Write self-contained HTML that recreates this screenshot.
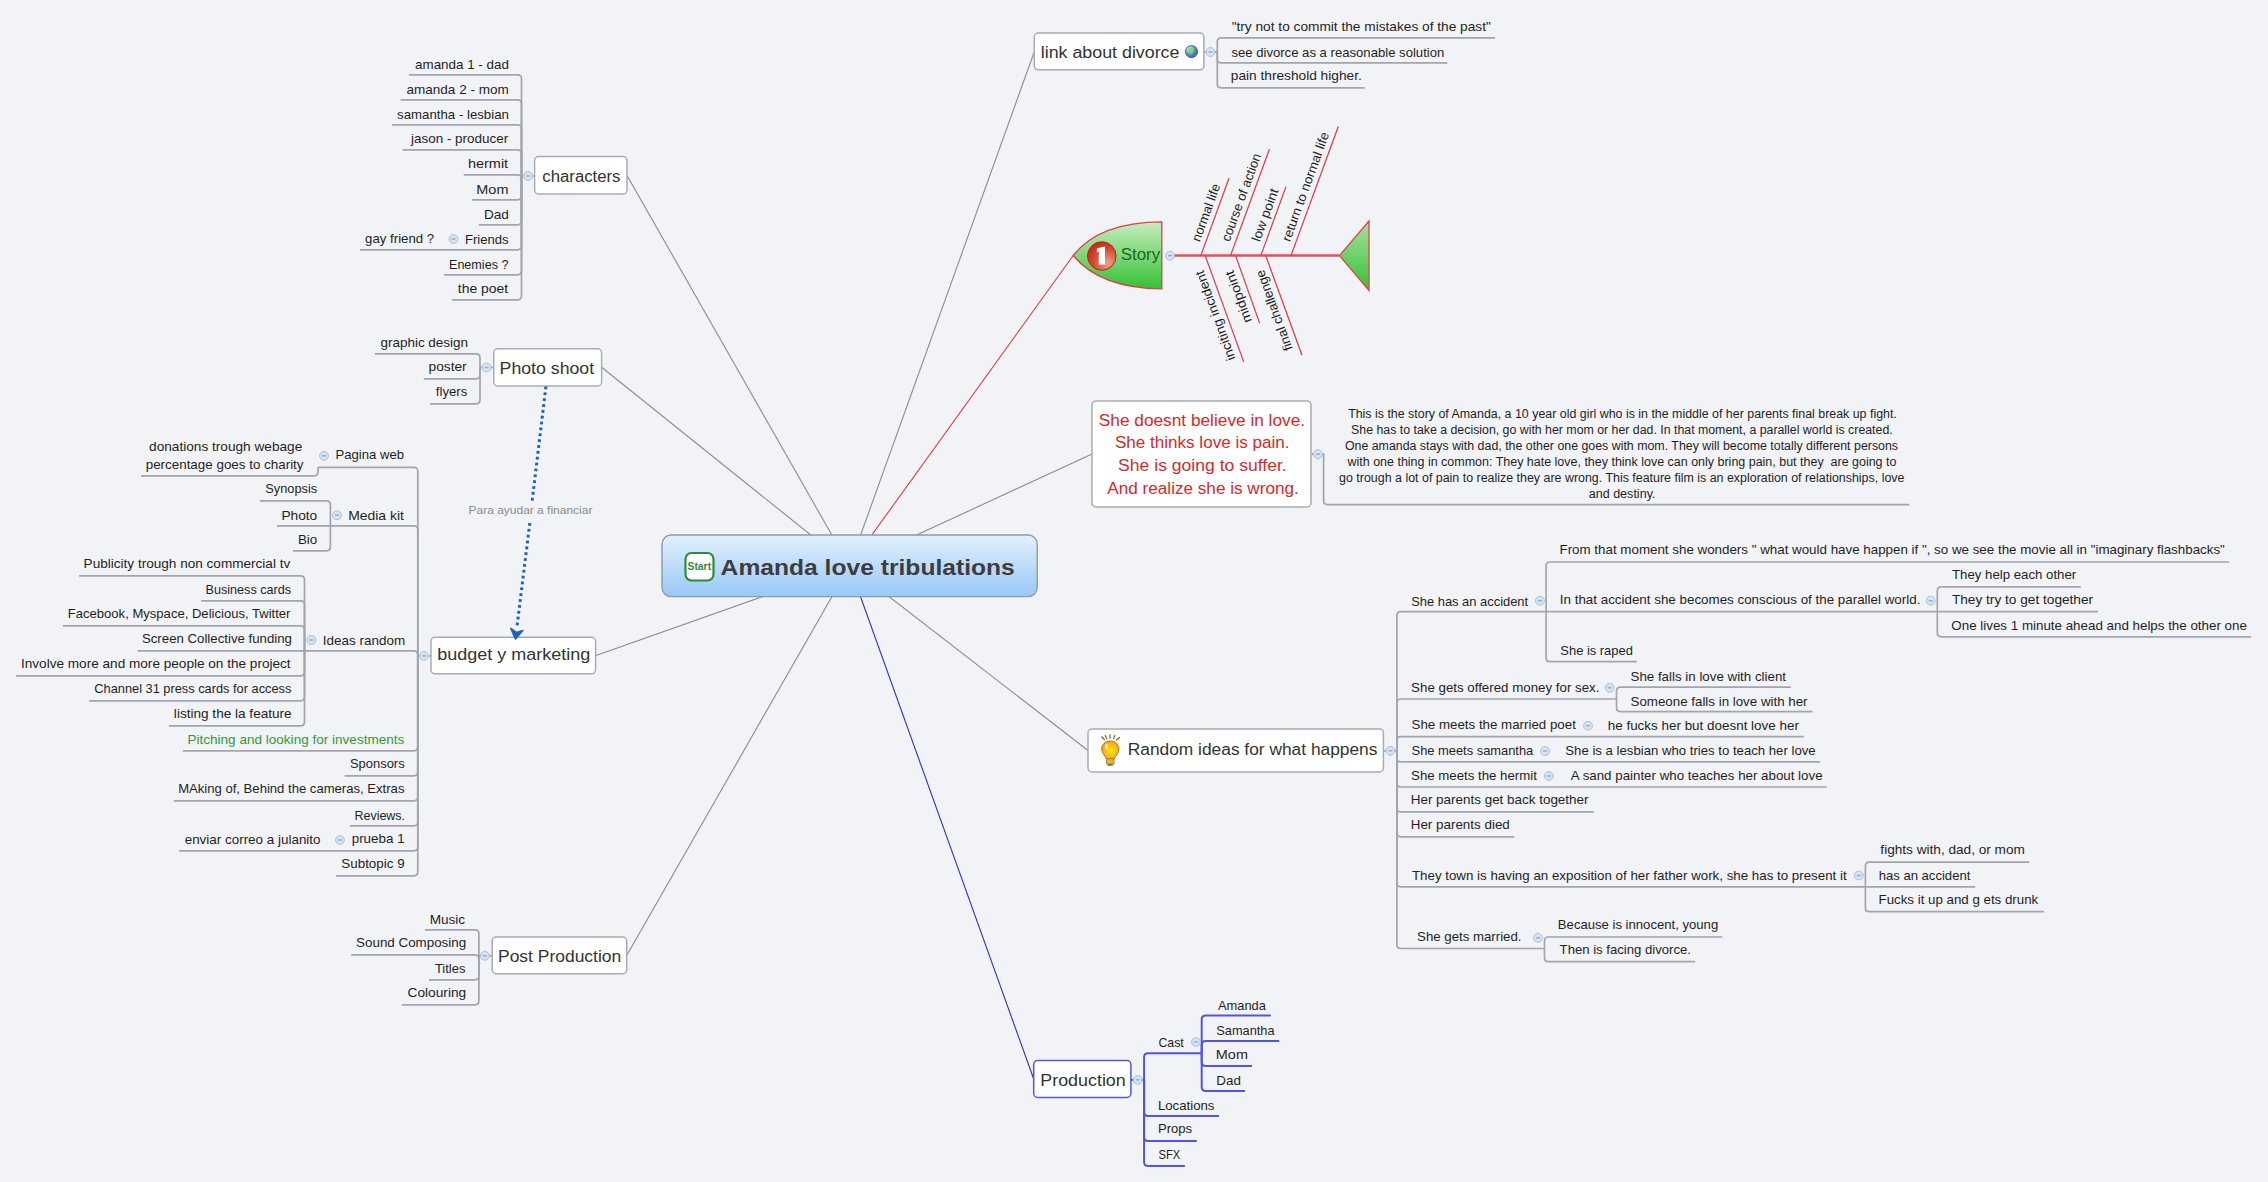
<!DOCTYPE html>
<html><head><meta charset="utf-8"><title>Amanda love tribulations</title>
<style>
html,body{margin:0;padding:0;width:2268px;height:1182px;overflow:hidden;background:#f2f3f7;}
body{position:relative;font-family:"Liberation Sans",sans-serif;}
</style></head>
<body><svg width="2268" height="1182" viewBox="0 0 2268 1182" style="position:absolute;left:0;top:0" font-family="Liberation Sans, sans-serif"><defs>
<linearGradient id="centralg" x1="0" y1="0" x2="0" y2="1">
<stop offset="0" stop-color="#e3f0fc"/><stop offset="1" stop-color="#98c8f7"/></linearGradient>
<linearGradient id="fishg" x1="0" y1="0" x2="0" y2="1">
<stop offset="0" stop-color="#c8ecc0"/><stop offset="1" stop-color="#33c233"/></linearGradient>
<linearGradient id="fishg2" x1="0" y1="0" x2="0" y2="1">
<stop offset="0" stop-color="#a8e0a0"/><stop offset="1" stop-color="#33c233"/></linearGradient>
<radialGradient id="badgeg" cx="0.7" cy="0.75" r="0.8">
<stop offset="0" stop-color="#f2a090"/><stop offset="0.6" stop-color="#d84a30"/><stop offset="1" stop-color="#c22a1a"/></radialGradient>
<radialGradient id="globeg" cx="0.35" cy="0.3" r="0.8">
<stop offset="0" stop-color="#e8f6ff"/><stop offset="0.5" stop-color="#4aa0c8"/><stop offset="1" stop-color="#3a4aa0"/></radialGradient>
<radialGradient id="bulbg" cx="0.55" cy="0.55" r="0.6">
<stop offset="0" stop-color="#f0f000"/><stop offset="0.7" stop-color="#f8b020"/><stop offset="1" stop-color="#f09010"/></radialGradient>
</defs><line x1="849.5" y1="566" x2="627" y2="175.5" stroke="#8c8c8c" stroke-width="1.1"/>
<line x1="849.5" y1="566" x2="601.6" y2="367.3" stroke="#8c8c8c" stroke-width="1.1"/>
<line x1="849.5" y1="566" x2="596" y2="655.5" stroke="#8c8c8c" stroke-width="1.1"/>
<line x1="849.5" y1="566" x2="627" y2="955" stroke="#8c8c8c" stroke-width="1.1"/>
<line x1="849.5" y1="566" x2="1034.3" y2="51.8" stroke="#8c8c8c" stroke-width="1.1"/>
<line x1="849.5" y1="566" x2="1073.2" y2="255.5" stroke="#e23b3b" stroke-width="1.1"/>
<line x1="849.5" y1="566" x2="1092" y2="454" stroke="#8c8c8c" stroke-width="1.1"/>
<line x1="849.5" y1="566" x2="1088" y2="750.5" stroke="#8c8c8c" stroke-width="1.1"/>
<line x1="849.5" y1="566" x2="1033.7" y2="1079" stroke="#3030c8" stroke-width="1.1"/>
<path d="M521.5,176 V78.8 Q521.5,74.8 517.5,74.8 H409" fill="none" stroke="#a2a5ab" stroke-width="1.7"/>
<path d="M521.5,176 V103.8 Q521.5,99.8 517.5,99.8 H400.6" fill="none" stroke="#a2a5ab" stroke-width="1.7"/>
<path d="M521.5,176 V128.8 Q521.5,124.8 517.5,124.8 H392" fill="none" stroke="#a2a5ab" stroke-width="1.7"/>
<path d="M521.5,176 V153.8 Q521.5,149.8 517.5,149.8 H402.5" fill="none" stroke="#a2a5ab" stroke-width="1.7"/>
<path d="M521.5,176 V178.8 Q521.5,174.8 517.5,174.8 H463.75" fill="none" stroke="#a2a5ab" stroke-width="1.7"/>
<path d="M521.5,176 V195.8 Q521.5,199.8 517.5,199.8 H472" fill="none" stroke="#a2a5ab" stroke-width="1.7"/>
<path d="M521.5,176 V220.8 Q521.5,224.8 517.5,224.8 H478.75" fill="none" stroke="#a2a5ab" stroke-width="1.7"/>
<path d="M521.5,176 V245.8 Q521.5,249.8 517.5,249.8 H360" fill="none" stroke="#a2a5ab" stroke-width="1.7"/>
<path d="M521.5,176 V270.8 Q521.5,274.8 517.5,274.8 H444" fill="none" stroke="#a2a5ab" stroke-width="1.7"/>
<path d="M521.5,176 V295.8 Q521.5,299.8 517.5,299.8 H452" fill="none" stroke="#a2a5ab" stroke-width="1.7"/>
<path d="M528,176 H534.6" fill="none" stroke="#a2a5ab" stroke-width="1.7"/>
<text x="415.06" y="69.00" font-size="13" fill="#1f1f1f" textLength="93.80" lengthAdjust="spacingAndGlyphs">amanda 1 - dad</text>
<text x="406.46" y="94.00" font-size="13" fill="#1f1f1f" textLength="102.33" lengthAdjust="spacingAndGlyphs">amanda 2 - mom</text>
<text x="397.10" y="118.75" font-size="13" fill="#1f1f1f" textLength="111.80" lengthAdjust="spacingAndGlyphs">samantha - lesbian</text>
<text x="411.00" y="142.50" font-size="13" fill="#1f1f1f" textLength="97.20" lengthAdjust="spacingAndGlyphs">jason - producer</text>
<text x="467.99" y="168.00" font-size="13" fill="#1f1f1f" textLength="40.13" lengthAdjust="spacingAndGlyphs">hermit</text>
<text x="476.35" y="193.75" font-size="13" fill="#1f1f1f" textLength="32.05" lengthAdjust="spacingAndGlyphs">Mom</text>
<text x="483.91" y="218.75" font-size="13" fill="#1f1f1f" textLength="24.96" lengthAdjust="spacingAndGlyphs">Dad</text>
<text x="464.96" y="243.50" font-size="13" fill="#1f1f1f" textLength="43.49" lengthAdjust="spacingAndGlyphs">Friends</text>
<text x="448.99" y="268.50" font-size="13" fill="#1f1f1f" textLength="59.44" lengthAdjust="spacingAndGlyphs">Enemies ?</text>
<text x="457.86" y="292.50" font-size="13" fill="#1f1f1f" textLength="50.19" lengthAdjust="spacingAndGlyphs">the poet</text>
<text x="365.07" y="243.20" font-size="13" fill="#1f1f1f" textLength="69.14" lengthAdjust="spacingAndGlyphs">gay friend ?</text>
<g transform="translate(453.5,239)"><circle r="4.4" fill="#d4e5f8" stroke="#aebdd0" stroke-width="1"/><line x1="-2" y1="0" x2="2" y2="0" stroke="#94add0" stroke-width="1.5"/></g>
<rect x="534.60" y="156.50" width="92.40" height="37.50" rx="4" fill="#ffffff" stroke="#a9acb0" stroke-width="1.5"/>
<text x="542.33" y="181.80" font-size="16" fill="#333333" textLength="78.14" lengthAdjust="spacingAndGlyphs">characters</text>
<g transform="translate(528,176)"><circle r="4.4" fill="#d4e5f8" stroke="#aebdd0" stroke-width="1"/><line x1="-2" y1="0" x2="2" y2="0" stroke="#94add0" stroke-width="1.5"/></g>
<path d="M480,367.5 V357.8 Q480,353.8 476,353.8 H374.75" fill="none" stroke="#a2a5ab" stroke-width="1.7"/>
<path d="M480,367.5 V374.8 Q480,378.8 476,378.8 H423.75" fill="none" stroke="#a2a5ab" stroke-width="1.7"/>
<path d="M480,367.5 V399.8 Q480,403.8 476,403.8 H430" fill="none" stroke="#a2a5ab" stroke-width="1.7"/>
<path d="M480,367.5 H493.75" fill="none" stroke="#a2a5ab" stroke-width="1.7"/>
<text x="380.46" y="346.90" font-size="13" fill="#1f1f1f" textLength="87.60" lengthAdjust="spacingAndGlyphs">graphic design</text>
<text x="428.58" y="370.60" font-size="13" fill="#1f1f1f" textLength="38.05" lengthAdjust="spacingAndGlyphs">poster</text>
<text x="435.87" y="396.00" font-size="13" fill="#1f1f1f" textLength="31.41" lengthAdjust="spacingAndGlyphs">flyers</text>
<rect x="493.75" y="348.75" width="107.85" height="37.15" rx="4" fill="#ffffff" stroke="#a9acb0" stroke-width="1.5"/>
<text x="499.58" y="374.00" font-size="16" fill="#333333" textLength="94.54" lengthAdjust="spacingAndGlyphs">Photo shoot</text>
<g transform="translate(486.5,367.5)"><circle r="4.4" fill="#d4e5f8" stroke="#aebdd0" stroke-width="1"/><line x1="-2" y1="0" x2="2" y2="0" stroke="#94add0" stroke-width="1.5"/></g>
<path d="M417.8,655.9 V471.4 Q417.8,467.4 413.8,467.4 H318" fill="none" stroke="#a2a5ab" stroke-width="1.7"/>
<path d="M318,467.4 V471.8 Q318,475.8 314,475.8 H141.2" fill="none" stroke="#a2a5ab" stroke-width="1.7"/>
<text x="335.55" y="459.00" font-size="13" fill="#1f1f1f" textLength="68.42" lengthAdjust="spacingAndGlyphs">Pagina web</text>
<text x="149.05" y="450.50" font-size="13" fill="#1f1f1f" textLength="153.23" lengthAdjust="spacingAndGlyphs">donations trough webage</text>
<text x="145.70" y="468.60" font-size="13" fill="#1f1f1f" textLength="157.86" lengthAdjust="spacingAndGlyphs">percentage goes to charity</text>
<g transform="translate(324,455.8)"><circle r="4.4" fill="#d4e5f8" stroke="#aebdd0" stroke-width="1"/><line x1="-2" y1="0" x2="2" y2="0" stroke="#94add0" stroke-width="1.5"/></g>
<path d="M417.8,655.9 V529.8 Q417.8,525.8 413.8,525.8 H330.4" fill="none" stroke="#a2a5ab" stroke-width="1.7"/>
<path d="M330.4,525.8 V504.8 Q330.4,500.8 326.4,500.8 H260" fill="none" stroke="#a2a5ab" stroke-width="1.7"/>
<text x="265.36" y="492.80" font-size="13" fill="#1f1f1f" textLength="51.79" lengthAdjust="spacingAndGlyphs">Synopsis</text>
<path d="M330.4,525.8 H276.8" fill="none" stroke="#a2a5ab" stroke-width="1.7"/>
<text x="281.40" y="519.50" font-size="13" fill="#1f1f1f" textLength="35.85" lengthAdjust="spacingAndGlyphs">Photo</text>
<path d="M330.4,525.8 V546.8 Q330.4,550.8 326.4,550.8 H293" fill="none" stroke="#a2a5ab" stroke-width="1.7"/>
<text x="297.93" y="544.40" font-size="13" fill="#1f1f1f" textLength="19.34" lengthAdjust="spacingAndGlyphs">Bio</text>
<text x="348.18" y="519.50" font-size="13" fill="#1f1f1f" textLength="55.77" lengthAdjust="spacingAndGlyphs">Media kit</text>
<g transform="translate(337,515.3)"><circle r="4.4" fill="#d4e5f8" stroke="#aebdd0" stroke-width="1"/><line x1="-2" y1="0" x2="2" y2="0" stroke="#94add0" stroke-width="1.5"/></g>
<path d="M417.8,655.9 V654.8 Q417.8,650.8 413.8,650.8 H304.5" fill="none" stroke="#a2a5ab" stroke-width="1.7"/>
<path d="M304.5,650.8 V579.8 Q304.5,575.8 300.5,575.8 H79.1" fill="none" stroke="#a2a5ab" stroke-width="1.7"/>
<text x="83.61" y="567.90" font-size="13" fill="#1f1f1f" textLength="206.65" lengthAdjust="spacingAndGlyphs">Publicity trough non commercial tv</text>
<path d="M304.5,650.8 V604.8 Q304.5,600.8 300.5,600.8 H201.3" fill="none" stroke="#a2a5ab" stroke-width="1.7"/>
<text x="205.59" y="594.30" font-size="13" fill="#1f1f1f" textLength="85.39" lengthAdjust="spacingAndGlyphs">Business cards</text>
<path d="M304.5,650.8 V629.8 Q304.5,625.8 300.5,625.8 H62.8" fill="none" stroke="#a2a5ab" stroke-width="1.7"/>
<text x="67.75" y="618.10" font-size="13" fill="#1f1f1f" textLength="222.71" lengthAdjust="spacingAndGlyphs">Facebook, Myspace, Delicious, Twitter</text>
<path d="M304.5,650.8 H137.6" fill="none" stroke="#a2a5ab" stroke-width="1.7"/>
<text x="141.94" y="643.30" font-size="13" fill="#1f1f1f" textLength="149.98" lengthAdjust="spacingAndGlyphs">Screen Collective funding</text>
<path d="M304.5,650.8 V671.8 Q304.5,675.8 300.5,675.8 H16.1" fill="none" stroke="#a2a5ab" stroke-width="1.7"/>
<text x="20.98" y="667.70" font-size="13" fill="#1f1f1f" textLength="269.67" lengthAdjust="spacingAndGlyphs">Involve more and more people on the project</text>
<path d="M304.5,650.8 V696.8 Q304.5,700.8 300.5,700.8 H89.3" fill="none" stroke="#a2a5ab" stroke-width="1.7"/>
<text x="94.36" y="692.90" font-size="13" fill="#1f1f1f" textLength="196.97" lengthAdjust="spacingAndGlyphs">Channel 31 press cards for access</text>
<path d="M304.5,650.8 V721.8 Q304.5,725.8 300.5,725.8 H169" fill="none" stroke="#a2a5ab" stroke-width="1.7"/>
<text x="173.89" y="718.40" font-size="13" fill="#1f1f1f" textLength="117.78" lengthAdjust="spacingAndGlyphs">listing the la feature</text>
<text x="322.89" y="644.90" font-size="13" fill="#1f1f1f" textLength="82.28" lengthAdjust="spacingAndGlyphs">Ideas random</text>
<g transform="translate(311.4,640)"><circle r="4.4" fill="#d4e5f8" stroke="#aebdd0" stroke-width="1"/><line x1="-2" y1="0" x2="2" y2="0" stroke="#94add0" stroke-width="1.5"/></g>
<path d="M417.8,655.9 V746.8 Q417.8,750.8 413.8,750.8 H182.9" fill="none" stroke="#a2a5ab" stroke-width="1.7"/>
<text x="187.42" y="743.60" font-size="13" fill="#3a963a" textLength="216.96" lengthAdjust="spacingAndGlyphs">Pitching and looking for investments</text>
<path d="M417.8,655.9 V771.8 Q417.8,775.8 413.8,775.8 H344.6" fill="none" stroke="#a2a5ab" stroke-width="1.7"/>
<text x="349.95" y="768.00" font-size="13" fill="#1f1f1f" textLength="54.69" lengthAdjust="spacingAndGlyphs">Sponsors</text>
<path d="M417.8,655.9 V796.8 Q417.8,800.8 413.8,800.8 H173.7" fill="none" stroke="#a2a5ab" stroke-width="1.7"/>
<text x="178.15" y="793.20" font-size="13" fill="#1f1f1f" textLength="226.30" lengthAdjust="spacingAndGlyphs">MAking of, Behind the cameras, Extras</text>
<path d="M417.8,655.9 V821.8 Q417.8,825.8 413.8,825.8 H349.8" fill="none" stroke="#a2a5ab" stroke-width="1.7"/>
<text x="354.50" y="819.60" font-size="13" fill="#1f1f1f" textLength="50.58" lengthAdjust="spacingAndGlyphs">Reviews.</text>
<path d="M417.8,655.9 V846.8 Q417.8,850.8 413.8,850.8 H179" fill="none" stroke="#a2a5ab" stroke-width="1.7"/>
<text x="351.70" y="843.40" font-size="13" fill="#1f1f1f" textLength="52.94" lengthAdjust="spacingAndGlyphs">prueba 1</text>
<path d="M417.8,655.9 V871.8 Q417.8,875.8 413.8,875.8 H336" fill="none" stroke="#a2a5ab" stroke-width="1.7"/>
<text x="341.33" y="868.40" font-size="13" fill="#1f1f1f" textLength="63.28" lengthAdjust="spacingAndGlyphs">Subtopic 9</text>
<text x="184.66" y="843.50" font-size="13" fill="#1f1f1f" textLength="135.92" lengthAdjust="spacingAndGlyphs">enviar correo a julanito</text>
<g transform="translate(340,840)"><circle r="4.4" fill="#d4e5f8" stroke="#aebdd0" stroke-width="1"/><line x1="-2" y1="0" x2="2" y2="0" stroke="#94add0" stroke-width="1.5"/></g>
<path d="M417.8,655.9 H431" fill="none" stroke="#a2a5ab" stroke-width="1.7"/>
<rect x="431.00" y="637.30" width="164.60" height="36.50" rx="4" fill="#ffffff" stroke="#a9acb0" stroke-width="1.5"/>
<text x="437.32" y="660.30" font-size="16" fill="#333333" textLength="153.04" lengthAdjust="spacingAndGlyphs">budget y marketing</text>
<g transform="translate(424,655.9)"><circle r="4.4" fill="#d4e5f8" stroke="#aebdd0" stroke-width="1"/><line x1="-2" y1="0" x2="2" y2="0" stroke="#94add0" stroke-width="1.5"/></g>
<path d="M478.9,955.8 V933.8 Q478.9,929.8 474.9,929.8 H425" fill="none" stroke="#a2a5ab" stroke-width="1.7"/>
<text x="429.72" y="923.50" font-size="13" fill="#1f1f1f" textLength="35.41" lengthAdjust="spacingAndGlyphs">Music</text>
<path d="M478.9,955.8 V958.8 Q478.9,954.8 474.9,954.8 H351" fill="none" stroke="#a2a5ab" stroke-width="1.7"/>
<text x="356.13" y="947.40" font-size="13" fill="#1f1f1f" textLength="109.96" lengthAdjust="spacingAndGlyphs">Sound Composing</text>
<path d="M478.9,955.8 V975.8 Q478.9,979.8 474.9,979.8 H429" fill="none" stroke="#a2a5ab" stroke-width="1.7"/>
<text x="434.94" y="973.10" font-size="13" fill="#1f1f1f" textLength="30.47" lengthAdjust="spacingAndGlyphs">Titles</text>
<path d="M478.9,955.8 V1000.8 Q478.9,1004.8 474.9,1004.8 H401.8" fill="none" stroke="#a2a5ab" stroke-width="1.7"/>
<text x="407.51" y="997.20" font-size="13" fill="#1f1f1f" textLength="58.75" lengthAdjust="spacingAndGlyphs">Colouring</text>
<path d="M478.9,955.8 H492.2" fill="none" stroke="#a2a5ab" stroke-width="1.7"/>
<rect x="492.20" y="937.00" width="134.50" height="36.70" rx="4" fill="#ffffff" stroke="#a9acb0" stroke-width="1.5"/>
<text x="498.00" y="961.90" font-size="16" fill="#333333" textLength="123.20" lengthAdjust="spacingAndGlyphs">Post Production</text>
<g transform="translate(484.9,955.8)"><circle r="4.4" fill="#d4e5f8" stroke="#aebdd0" stroke-width="1"/><line x1="-2" y1="0" x2="2" y2="0" stroke="#94add0" stroke-width="1.5"/></g>
<path d="M1217.3,52 V41.8 Q1217.3,37.8 1221.3,37.8 H1495" fill="none" stroke="#a2a5ab" stroke-width="1.7"/>
<text x="1231.65" y="30.50" font-size="13" fill="#1f1f1f" textLength="259.21" lengthAdjust="spacingAndGlyphs">"try not to commit the mistakes of the past"</text>
<path d="M1217.3,52 V58.9 Q1217.3,62.9 1221.3,62.9 H1447.4" fill="none" stroke="#a2a5ab" stroke-width="1.7"/>
<text x="1231.41" y="56.60" font-size="13" fill="#1f1f1f" textLength="212.90" lengthAdjust="spacingAndGlyphs">see divorce as a reasonable solution</text>
<path d="M1217.3,52 V83.8 Q1217.3,87.8 1221.3,87.8 H1364.8" fill="none" stroke="#a2a5ab" stroke-width="1.7"/>
<text x="1230.78" y="80.40" font-size="13" fill="#1f1f1f" textLength="130.98" lengthAdjust="spacingAndGlyphs">pain threshold higher.</text>
<path d="M1203.9,52 H1217.3" fill="none" stroke="#a2a5ab" stroke-width="1.7"/>
<rect x="1034.30" y="33.10" width="169.60" height="36.70" rx="4" fill="#ffffff" stroke="#a9acb0" stroke-width="1.5"/>
<text x="1040.73" y="57.90" font-size="16" fill="#333333" textLength="138.71" lengthAdjust="spacingAndGlyphs">link about divorce</text>
<g transform="translate(1210.5,52)"><circle r="4.4" fill="#d4e5f8" stroke="#aebdd0" stroke-width="1"/><line x1="-2" y1="0" x2="2" y2="0" stroke="#94add0" stroke-width="1.5"/></g>
<g transform="translate(1191.5,51.6)">
<circle r="6.1" fill="url(#globeg)" stroke="#2d5f7a" stroke-width="0.8"/>
<path d="M-2.5,-4.5 C-1,-3 1,-4 1.5,-2 C2.5,0 0,1.5 -0.5,3 C-1.5,1 -3.5,0 -3,-2 Z" fill="#8fd04a" opacity="0.9"/>
<path d="M2,2 C4,1.5 5,3 4,4.5 C3,5.5 1.5,5 2,2 Z" fill="#8a5ab8" opacity="0.8"/>
</g>
<path d="M1174,255.6 H1339.4" fill="none" stroke="#e2505a" stroke-width="2.5"/>
<path d="M1200.8,255.6 L1229,178.2" fill="none" stroke="#e0404a" stroke-width="1.3"/>
<text transform="translate(1200.01,241.69) rotate(-70)" x="-0.78" y="0" font-size="13" fill="#1f1f1f" textLength="60.34" lengthAdjust="spacingAndGlyphs">normal life</text>
<path d="M1230.5,255.6 L1269.4,149.2" fill="none" stroke="#e0404a" stroke-width="1.3"/>
<text transform="translate(1229.71,241.69) rotate(-70)" x="-0.52" y="0" font-size="13" fill="#1f1f1f" textLength="92.43" lengthAdjust="spacingAndGlyphs">course of action</text>
<path d="M1260.8,255.6 L1286,186.6" fill="none" stroke="#e0404a" stroke-width="1.3"/>
<text transform="translate(1260.01,241.69) rotate(-70)" x="-0.84" y="0" font-size="13" fill="#1f1f1f" textLength="55.43" lengthAdjust="spacingAndGlyphs">low point</text>
<path d="M1291,255.6 L1338.3,126.5" fill="none" stroke="#e0404a" stroke-width="1.3"/>
<text transform="translate(1290.21,241.69) rotate(-70)" x="-0.80" y="0" font-size="13" fill="#1f1f1f" textLength="115.39" lengthAdjust="spacingAndGlyphs">return to normal life</text>
<path d="M1205.2,255.6 L1243.7,361.9" fill="none" stroke="#e0404a" stroke-width="1.3"/>
<text transform="translate(1235.32,357.86) rotate(-110)" x="-0.83" y="0" font-size="13" fill="#1f1f1f" textLength="94.83" lengthAdjust="spacingAndGlyphs">inciting incident</text>
<path d="M1235.6,255.6 L1259.7,323.4" fill="none" stroke="#e0404a" stroke-width="1.3"/>
<text transform="translate(1251.66,320.20) rotate(-110)" x="-0.87" y="0" font-size="13" fill="#1f1f1f" textLength="54.71" lengthAdjust="spacingAndGlyphs">midpoint</text>
<path d="M1265.7,255.6 L1302,355.3" fill="none" stroke="#e0404a" stroke-width="1.3"/>
<text transform="translate(1292.64,348.59) rotate(-110)" x="-0.13" y="0" font-size="13" fill="#1f1f1f" textLength="84.80" lengthAdjust="spacingAndGlyphs">final challenge</text>
<path d="M1073.2,255.5 C1090,234 1118,222 1161.8,221.9 V288.8 C1118,288.5 1090,276 1073.2,255.5 Z" fill="url(#fishg)" stroke="#e0404a" stroke-width="1.3"/>
<path d="M1339.4,255.6 L1369,221 V290.4 Z" fill="url(#fishg2)" stroke="#e0404a" stroke-width="1.3"/>
<g transform="translate(1101.8,256)">
<circle r="14.3" fill="url(#badgeg)" stroke="#b02a1a" stroke-width="1"/>
<path d="M-1.2,-8.5 L3.2,-9.5 V8.5 H-3 V-4.5 L-5,-3.5 V-7.5 Z" fill="#ffffff"/>
</g>
<text x="1120.76" y="259.90" font-size="16" fill="#176a17" textLength="39.31" lengthAdjust="spacingAndGlyphs">Story</text>
<g transform="translate(1170,255.7)"><circle r="4.4" fill="#d4e5f8" stroke="#aebdd0" stroke-width="1"/><line x1="-2" y1="0" x2="2" y2="0" stroke="#94add0" stroke-width="1.5"/></g>
<path d="M1311,454.2 H1323.6 V500.6 Q1323.6,504.6 1327.6,504.6 H1909.3" fill="none" stroke="#a2a5ab" stroke-width="1.7"/>
<rect x="1092.00" y="400.90" width="219.00" height="106.00" rx="4" fill="#ffffff" stroke="#a9acb0" stroke-width="1.5"/>
<text x="1098.84" y="426.10" font-size="16" fill="#d42a2a" textLength="206.25" lengthAdjust="spacingAndGlyphs">She doesnt believe in love.</text>
<text x="1114.95" y="448.00" font-size="16" fill="#d42a2a" textLength="174.55" lengthAdjust="spacingAndGlyphs">She thinks love is pain.</text>
<text x="1118.12" y="470.80" font-size="16" fill="#d42a2a" textLength="168.63" lengthAdjust="spacingAndGlyphs">She is going to suffer.</text>
<text x="1107.30" y="493.60" font-size="16" fill="#d42a2a" textLength="191.47" lengthAdjust="spacingAndGlyphs">And realize she is wrong.</text>
<g transform="translate(1317.9,454.2)"><circle r="4.4" fill="#d4e5f8" stroke="#aebdd0" stroke-width="1"/><line x1="-2" y1="0" x2="2" y2="0" stroke="#94add0" stroke-width="1.5"/></g>
<text x="1348.15" y="417.90" font-size="12" fill="#1f1f1f" textLength="548.70" lengthAdjust="spacingAndGlyphs">This is the story of Amanda, a 10 year old girl who is in the middle of her parents final break up fight.</text>
<text x="1351.08" y="433.70" font-size="12" fill="#1f1f1f" textLength="541.61" lengthAdjust="spacingAndGlyphs">She has to take a decision, go with her mom or her dad. In that moment, a parallel world is created.</text>
<text x="1344.91" y="449.60" font-size="12" fill="#1f1f1f" textLength="553.11" lengthAdjust="spacingAndGlyphs">One amanda stays with dad, the other one goes with mom. They will become totally different persons</text>
<text x="1347.50" y="465.50" font-size="12" fill="#1f1f1f" textLength="548.94" lengthAdjust="spacingAndGlyphs">with one thing in common: They hate love, they think love can only bring pain, but they  are going to</text>
<text x="1339.10" y="482.00" font-size="12" fill="#1f1f1f" textLength="565.34" lengthAdjust="spacingAndGlyphs">go trough a lot of pain to realize they are wrong. This feature film is an exploration of relationships, love</text>
<text x="1588.70" y="498.00" font-size="12" fill="#1f1f1f" textLength="66.81" lengthAdjust="spacingAndGlyphs">and destiny.</text>
<path d="M1396.9,750.8 V615.7 Q1396.9,611.7 1400.9,611.7 H1546.1" fill="none" stroke="#a2a5ab" stroke-width="1.7"/>
<text x="1411.15" y="605.80" font-size="13" fill="#1f1f1f" textLength="116.99" lengthAdjust="spacingAndGlyphs">She has an accident</text>
<path d="M1396.9,750.8 V703 Q1396.9,699 1400.9,699 H1616.5" fill="none" stroke="#a2a5ab" stroke-width="1.7"/>
<text x="1411.13" y="691.50" font-size="13" fill="#1f1f1f" textLength="188.30" lengthAdjust="spacingAndGlyphs">She gets offered money for sex.</text>
<path d="M1396.9,750.8 V740.7 Q1396.9,736.7 1400.9,736.7 H1804" fill="none" stroke="#a2a5ab" stroke-width="1.7"/>
<text x="1411.53" y="729.40" font-size="13" fill="#1f1f1f" textLength="164.38" lengthAdjust="spacingAndGlyphs">She meets the married poet</text>
<path d="M1396.9,750.8 V757.9 Q1396.9,761.9 1400.9,761.9 H1820" fill="none" stroke="#a2a5ab" stroke-width="1.7"/>
<text x="1411.56" y="755.20" font-size="13" fill="#1f1f1f" textLength="121.73" lengthAdjust="spacingAndGlyphs">She meets samantha</text>
<path d="M1396.9,750.8 V783 Q1396.9,787 1400.9,787 H1827" fill="none" stroke="#a2a5ab" stroke-width="1.7"/>
<text x="1411.14" y="780.40" font-size="13" fill="#1f1f1f" textLength="125.71" lengthAdjust="spacingAndGlyphs">She meets the hermit</text>
<path d="M1396.9,750.8 V807.9 Q1396.9,811.9 1400.9,811.9 H1593.7" fill="none" stroke="#a2a5ab" stroke-width="1.7"/>
<text x="1410.72" y="804.20" font-size="13" fill="#1f1f1f" textLength="177.79" lengthAdjust="spacingAndGlyphs">Her parents get back together</text>
<path d="M1396.9,750.8 V832.8 Q1396.9,836.8 1400.9,836.8 H1514.3" fill="none" stroke="#a2a5ab" stroke-width="1.7"/>
<text x="1410.73" y="829.40" font-size="13" fill="#1f1f1f" textLength="99.11" lengthAdjust="spacingAndGlyphs">Her parents died</text>
<path d="M1396.9,750.8 V882.8 Q1396.9,886.8 1400.9,886.8 H1865.4" fill="none" stroke="#a2a5ab" stroke-width="1.7"/>
<text x="1411.93" y="879.50" font-size="13" fill="#1f1f1f" textLength="434.75" lengthAdjust="spacingAndGlyphs">They town is having an exposition of her father work, she has to present it</text>
<path d="M1396.9,750.8 V944.5 Q1396.9,948.5 1400.9,948.5 H1544.5" fill="none" stroke="#a2a5ab" stroke-width="1.7"/>
<text x="1417.14" y="940.90" font-size="13" fill="#1f1f1f" textLength="104.38" lengthAdjust="spacingAndGlyphs">She gets married.</text>
<path d="M1383.4,750.8 H1396.9" fill="none" stroke="#a2a5ab" stroke-width="1.7"/>
<path d="M1546.1,611.7 V566 Q1546.1,562 1550.1,562 H2229.2" fill="none" stroke="#a2a5ab" stroke-width="1.7"/>
<text x="1559.53" y="554.30" font-size="13" fill="#1f1f1f" textLength="665.33" lengthAdjust="spacingAndGlyphs">From that moment she wonders " what would have happen if ", so we see the movie all in "imaginary flashbacks"</text>
<path d="M1546.1,611.7 H1937.3" fill="none" stroke="#a2a5ab" stroke-width="1.7"/>
<text x="1559.80" y="604.40" font-size="13" fill="#1f1f1f" textLength="360.58" lengthAdjust="spacingAndGlyphs">In that accident she becomes conscious of the parallel world.</text>
<path d="M1546.1,611.7 V657.7 Q1546.1,661.7 1550.1,661.7 H1636.7" fill="none" stroke="#a2a5ab" stroke-width="1.7"/>
<text x="1560.35" y="654.70" font-size="13" fill="#1f1f1f" textLength="72.48" lengthAdjust="spacingAndGlyphs">She is raped</text>
<g transform="translate(1539.9,600.7)"><circle r="4.4" fill="#d4e5f8" stroke="#aebdd0" stroke-width="1"/><line x1="-2" y1="0" x2="2" y2="0" stroke="#94add0" stroke-width="1.5"/></g>
<path d="M1937.3,611.7 V590.9 Q1937.3,586.9 1941.3,586.9 H2081" fill="none" stroke="#a2a5ab" stroke-width="1.7"/>
<text x="1952.04" y="579.10" font-size="13" fill="#1f1f1f" textLength="124.15" lengthAdjust="spacingAndGlyphs">They help each other</text>
<path d="M1937.3,611.7 H2098" fill="none" stroke="#a2a5ab" stroke-width="1.7"/>
<text x="1951.93" y="604.40" font-size="13" fill="#1f1f1f" textLength="141.18" lengthAdjust="spacingAndGlyphs">They try to get together</text>
<path d="M1937.3,611.7 V632.8 Q1937.3,636.8 1941.3,636.8 H2251" fill="none" stroke="#a2a5ab" stroke-width="1.7"/>
<text x="1951.37" y="629.70" font-size="13" fill="#1f1f1f" textLength="295.53" lengthAdjust="spacingAndGlyphs">One lives 1 minute ahead and helps the other one</text>
<g transform="translate(1930.7,600.7)"><circle r="4.4" fill="#d4e5f8" stroke="#aebdd0" stroke-width="1"/><line x1="-2" y1="0" x2="2" y2="0" stroke="#94add0" stroke-width="1.5"/></g>
<path d="M1616.5,699 V691.1 Q1616.5,687.1 1620.5,687.1 H1790.8" fill="none" stroke="#a2a5ab" stroke-width="1.7"/>
<text x="1630.53" y="680.50" font-size="13" fill="#1f1f1f" textLength="155.52" lengthAdjust="spacingAndGlyphs">She falls in love with client</text>
<path d="M1616.5,699 V707.6 Q1616.5,711.6 1620.5,711.6 H1812.6" fill="none" stroke="#a2a5ab" stroke-width="1.7"/>
<text x="1630.53" y="705.60" font-size="13" fill="#1f1f1f" textLength="177.05" lengthAdjust="spacingAndGlyphs">Someone falls in love with her</text>
<g transform="translate(1609.6,687.8)"><circle r="4.4" fill="#d4e5f8" stroke="#aebdd0" stroke-width="1"/><line x1="-2" y1="0" x2="2" y2="0" stroke="#94add0" stroke-width="1.5"/></g>
<text x="1607.76" y="730.10" font-size="13" fill="#1f1f1f" textLength="191.17" lengthAdjust="spacingAndGlyphs">he fucks her but doesnt love her</text>
<g transform="translate(1588,725.7)"><circle r="4.4" fill="#d4e5f8" stroke="#aebdd0" stroke-width="1"/><line x1="-2" y1="0" x2="2" y2="0" stroke="#94add0" stroke-width="1.5"/></g>
<text x="1565.34" y="755.20" font-size="13" fill="#1f1f1f" textLength="250.31" lengthAdjust="spacingAndGlyphs">She is a lesbian who tries to teach her love</text>
<g transform="translate(1545,751)"><circle r="4.4" fill="#d4e5f8" stroke="#aebdd0" stroke-width="1"/><line x1="-2" y1="0" x2="2" y2="0" stroke="#94add0" stroke-width="1.5"/></g>
<text x="1570.80" y="779.90" font-size="13" fill="#1f1f1f" textLength="251.77" lengthAdjust="spacingAndGlyphs">A sand painter who teaches her about love</text>
<g transform="translate(1548.7,776)"><circle r="4.4" fill="#d4e5f8" stroke="#aebdd0" stroke-width="1"/><line x1="-2" y1="0" x2="2" y2="0" stroke="#94add0" stroke-width="1.5"/></g>
<path d="M1865.4,886.8 V866.1 Q1865.4,862.1 1869.4,862.1 H2029.3" fill="none" stroke="#a2a5ab" stroke-width="1.7"/>
<text x="1880.36" y="854.30" font-size="13" fill="#1f1f1f" textLength="144.51" lengthAdjust="spacingAndGlyphs">fights with, dad, or mom</text>
<path d="M1865.4,886.8 H1975.2" fill="none" stroke="#a2a5ab" stroke-width="1.7"/>
<text x="1878.68" y="880.40" font-size="13" fill="#1f1f1f" textLength="91.67" lengthAdjust="spacingAndGlyphs">has an accident</text>
<path d="M1865.4,886.8 V907.7 Q1865.4,911.7 1869.4,911.7 H2044" fill="none" stroke="#a2a5ab" stroke-width="1.7"/>
<text x="1878.54" y="904.00" font-size="13" fill="#1f1f1f" textLength="159.70" lengthAdjust="spacingAndGlyphs">Fucks it up and g ets drunk</text>
<g transform="translate(1858.8,875.5)"><circle r="4.4" fill="#d4e5f8" stroke="#aebdd0" stroke-width="1"/><line x1="-2" y1="0" x2="2" y2="0" stroke="#94add0" stroke-width="1.5"/></g>
<path d="M1544.5,948.5 V941 Q1544.5,937 1548.5,937 H1722.3" fill="none" stroke="#a2a5ab" stroke-width="1.7"/>
<text x="1557.85" y="929.40" font-size="13" fill="#1f1f1f" textLength="160.36" lengthAdjust="spacingAndGlyphs">Because is innocent, young</text>
<path d="M1544.5,948.5 V957.7 Q1544.5,961.7 1548.5,961.7 H1695.2" fill="none" stroke="#a2a5ab" stroke-width="1.7"/>
<text x="1559.64" y="954.30" font-size="13" fill="#1f1f1f" textLength="131.37" lengthAdjust="spacingAndGlyphs">Then is facing divorce.</text>
<g transform="translate(1538,937.8)"><circle r="4.4" fill="#d4e5f8" stroke="#aebdd0" stroke-width="1"/><line x1="-2" y1="0" x2="2" y2="0" stroke="#94add0" stroke-width="1.5"/></g>
<rect x="1088.00" y="728.90" width="295.40" height="43.10" rx="4" fill="#ffffff" stroke="#a9acb0" stroke-width="1.5"/>
<text x="1127.71" y="755.30" font-size="16" fill="#333333" textLength="249.75" lengthAdjust="spacingAndGlyphs">Random ideas for what happens</text>
<g transform="translate(1390.4,750.8)"><circle r="4.4" fill="#d4e5f8" stroke="#aebdd0" stroke-width="1"/><line x1="-2" y1="0" x2="2" y2="0" stroke="#94add0" stroke-width="1.5"/></g>
<g transform="translate(1110.3,750)">
<g stroke="#8a6a3a" stroke-width="1.3" stroke-linecap="round">
<line x1="-8.5" y1="-13" x2="-6" y2="-10.5"/><line x1="-5" y1="-14.5" x2="-3.6" y2="-11.5"/>
<line x1="-0.3" y1="-15" x2="-0.3" y2="-12"/><line x1="4.5" y1="-14.5" x2="3.3" y2="-11.5"/>
<line x1="9.3" y1="-12.5" x2="6.3" y2="-10"/></g>
<path d="M0,-9 C5.5,-9 8.6,-5 8.6,-1 C8.6,3 5.5,5 4,8.8 H-4 C-5.5,5 -8.6,3 -8.6,-1 C-8.6,-5 -5.5,-9 0,-9 Z" fill="url(#bulbg)" stroke="#c07a10" stroke-width="1"/>
<rect x="-3.8" y="8.8" width="7.6" height="5.2" fill="#e8b040" stroke="#a07a30" stroke-width="0.8"/>
<rect x="-2.8" y="14" width="5.6" height="1.8" rx="0.9" fill="#6a7a3a"/>
<ellipse cx="-3.8" cy="-3.5" rx="1.6" ry="3" fill="#fff7d0" opacity="0.8"/>
</g>
<path d="M1144.1,1079.9 V1057.3 Q1144.1,1053.3 1148.1,1053.3 H1201.7" fill="none" stroke="#5252e4" stroke-width="2"/>
<path d="M1144.1,1079.9 V1112 Q1144.1,1116 1148.1,1116 H1219" fill="none" stroke="#5252e4" stroke-width="2"/>
<path d="M1144.1,1079.9 V1137 Q1144.1,1141 1148.1,1141 H1196.8" fill="none" stroke="#5252e4" stroke-width="2"/>
<path d="M1144.1,1079.9 V1161.9 Q1144.1,1165.9 1148.1,1165.9 H1184.8" fill="none" stroke="#5252e4" stroke-width="2"/>
<path d="M1130.9,1079.9 H1144.1" fill="none" stroke="#5252e4" stroke-width="2"/>
<path d="M1201.7,1053.3 V1019.5 Q1201.7,1015.5 1205.7,1015.5 H1270.8" fill="none" stroke="#5252e4" stroke-width="2"/>
<path d="M1201.7,1053.3 V1045 Q1201.7,1041 1205.7,1041 H1279.2" fill="none" stroke="#5252e4" stroke-width="2"/>
<path d="M1201.7,1053.3 V1061.9 Q1201.7,1065.9 1205.7,1065.9 H1252" fill="none" stroke="#5252e4" stroke-width="2"/>
<path d="M1201.7,1053.3 V1087.1 Q1201.7,1091.1 1205.7,1091.1 H1245" fill="none" stroke="#5252e4" stroke-width="2"/>
<text x="1158.38" y="1046.90" font-size="13" fill="#1f1f1f" textLength="25.39" lengthAdjust="spacingAndGlyphs">Cast</text>
<text x="1157.94" y="1109.60" font-size="13" fill="#1f1f1f" textLength="56.46" lengthAdjust="spacingAndGlyphs">Locations</text>
<text x="1157.95" y="1133.20" font-size="13" fill="#1f1f1f" textLength="34.17" lengthAdjust="spacingAndGlyphs">Props</text>
<text x="1158.44" y="1159.40" font-size="13" fill="#1f1f1f" textLength="21.72" lengthAdjust="spacingAndGlyphs">SFX</text>
<text x="1218.00" y="1009.90" font-size="13" fill="#1f1f1f" textLength="47.93" lengthAdjust="spacingAndGlyphs">Amanda</text>
<text x="1216.36" y="1034.80" font-size="13" fill="#1f1f1f" textLength="58.12" lengthAdjust="spacingAndGlyphs">Samantha</text>
<text x="1215.85" y="1059.30" font-size="13" fill="#1f1f1f" textLength="32.05" lengthAdjust="spacingAndGlyphs">Mom</text>
<text x="1216.33" y="1084.70" font-size="13" fill="#1f1f1f" textLength="24.53" lengthAdjust="spacingAndGlyphs">Dad</text>
<g transform="translate(1196,1042)"><circle r="4.4" fill="#d4e5f8" stroke="#aebdd0" stroke-width="1"/><line x1="-2" y1="0" x2="2" y2="0" stroke="#94add0" stroke-width="1.5"/></g>
<rect x="1033.70" y="1060.60" width="97.20" height="36.90" rx="4" fill="#ffffff" stroke="#5555e0" stroke-width="1.5"/>
<text x="1040.27" y="1086.00" font-size="16" fill="#333333" textLength="85.49" lengthAdjust="spacingAndGlyphs">Production</text>
<g transform="translate(1137.7,1079.9)"><circle r="4.4" fill="#d4e5f8" stroke="#aebdd0" stroke-width="1"/><line x1="-2" y1="0" x2="2" y2="0" stroke="#94add0" stroke-width="1.5"/></g>
<line x1="545.9" y1="386.5" x2="532.1" y2="501.5" stroke="#1c62bc" stroke-width="3" stroke-dasharray="2.8 3.1"/>
<line x1="529.8" y1="523" x2="516.8" y2="628" stroke="#1c62bc" stroke-width="3" stroke-dasharray="2.8 3.1"/>
<path d="M510.8,628.5 L515.5,639 L522.8,630.5 L516.6,632.6 Z" fill="#1f63b8" stroke="#1f63b8" stroke-width="1.6" stroke-linejoin="round"/>
<text x="468.54" y="514.40" font-size="11.5" fill="#8a8a8a" textLength="123.86" lengthAdjust="spacingAndGlyphs">Para ayudar a financiar</text>
<rect x="662" y="535" width="375.2" height="61.6" rx="9" fill="url(#centralg)" stroke="#8e9aa8" stroke-width="1.4"/>
<rect x="685.5" y="553" width="28" height="27.5" rx="6" fill="#ffffff" stroke="#2c8c3a" stroke-width="2.2"/>
<text x="687.49" y="570.40" font-size="11.3" font-weight="bold" fill="#33874a" textLength="23.60" lengthAdjust="spacingAndGlyphs">Start</text>
<text x="720.61" y="575.10" font-size="22.2" font-weight="bold" fill="#3d3d3d" textLength="294.17" lengthAdjust="spacingAndGlyphs">Amanda love tribulations</text></svg></body></html>
